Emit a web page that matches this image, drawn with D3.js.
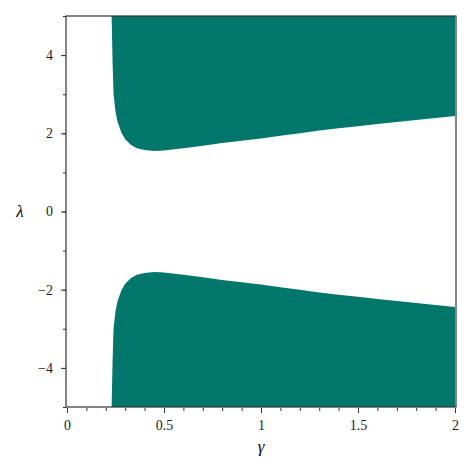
<!DOCTYPE html>
<html><head><meta charset="utf-8">
<script src="https://cdn.jsdelivr.net/npm/d3@7"></script>
<style>
body { margin: 0; background: #fff; }
text { font-family: "Liberation Serif", "DejaVu Serif", serif; }
</style></head>
<body><div id="chart"></div>
<script>
// boundary of the stable region: lambda >= edge(gamma) and lambda <= -edge(gamma)
const gammaVals  = [0.23, 0.235, 0.24, 0.25, 0.26, 0.28, 0.30, 0.33, 0.36, 0.40, 0.45, 0.50, 0.60, 0.70, 0.80, 0.90, 1.00, 1.10, 1.20, 1.30, 1.40, 1.50, 1.60, 1.70, 1.80, 1.90, 2.00];
const lambdaEdge = [5.0, 3.8, 3.0, 2.55, 2.3, 2.02, 1.85, 1.7, 1.62, 1.57, 1.55, 1.56, 1.62, 1.68, 1.75, 1.81, 1.87, 1.94, 2.0, 2.07, 2.13, 2.18, 2.24, 2.29, 2.34, 2.39, 2.44];
const xTicks = [0, 0.5, 1, 1.5, 2];
const yTicks = [-4, -2, 0, 2, 4];

const width = 474, height = 471;
const margin = { top: 16, right: 19, bottom: 64, left: 67 };
const fill = '#00776a';

const svg = d3.select('#chart').append('svg')
  .attr('width', width).attr('height', height);

const x = d3.scaleLinear().domain([0, 2]).range([margin.left, width - margin.right]);
const y = d3.scaleLinear().domain([-5, 5]).range([height - margin.bottom, margin.top]);

const data = gammaVals.map((g, i) => ({ g: g, l: lambdaEdge[i] }));

// upper region
svg.append('path').datum(data)
  .attr('fill', fill)
  .attr('d', d3.area().x(d => x(d.g)).y0(y(5)).y1(d => y(d.l)));
// lower region
svg.append('path').datum(data)
  .attr('fill', fill)
  .attr('d', d3.area().x(d => x(d.g)).y0(y(-5)).y1(d => y(-d.l)));

// frame
svg.append('rect')
  .attr('x', x(0) - 1).attr('y', y(5))
  .attr('width', x(2) - x(0) + 2).attr('height', y(-5) - y(5))
  .attr('fill', 'none').attr('stroke', '#333').attr('stroke-width', 1.2);

// x axis
const xAxis = svg.append('g')
  .attr('transform', `translate(0,${y(-5) + 1})`);
xAxis.call(d3.axisBottom(x).tickValues(d3.range(0, 2.001, 0.1)).tickSize(3).tickFormat(''));
xAxis.append('g').call(d3.axisBottom(x).tickValues(xTicks).tickSize(5).tickPadding(7).tickFormat(d3.format('')));
xAxis.selectAll('text').attr('font-size', 14).attr('fill', '#222');
xAxis.selectAll('path').remove();
xAxis.selectAll('line').attr('stroke', '#333');

// y axis
const yAxis = svg.append('g')
  .attr('transform', `translate(${x(0) - 1},0)`);
yAxis.call(d3.axisLeft(y).tickValues(d3.range(-5, 5.001, 1)).tickSize(3).tickFormat(''));
yAxis.append('g').call(d3.axisLeft(y).tickValues(yTicks).tickSize(5).tickPadding(8)
  .tickFormat(d => d < 0 ? '\u2212' + Math.abs(d) : d));
yAxis.selectAll('text').attr('font-size', 14).attr('fill', '#222');
yAxis.selectAll('path').remove();
yAxis.selectAll('line').attr('stroke', '#333');

svg.append('text').attr('x', x(1)).attr('y', 452)
  .attr('text-anchor', 'middle').attr('font-size', 17).attr('font-style', 'italic')
  .text('γ');
svg.append('text').attr('x', 20).attr('y', y(0) + 5)
  .attr('text-anchor', 'middle').attr('font-size', 17).attr('font-style', 'italic')
  .text('λ');
</script></body></html>
